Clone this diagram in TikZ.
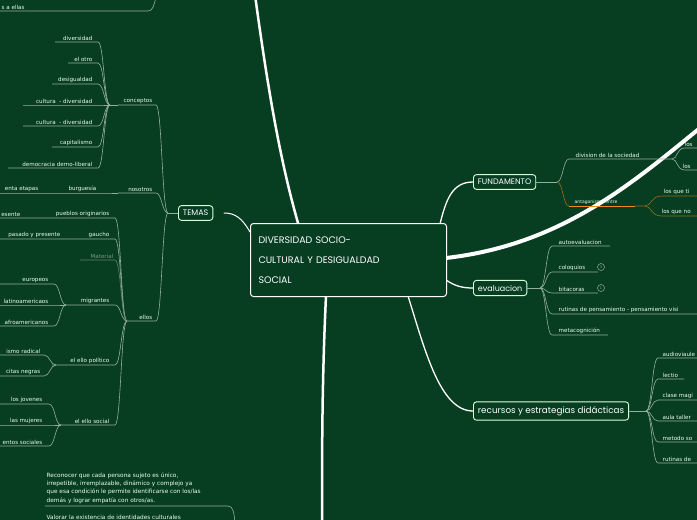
\documentclass[tikz,border=0pt]{standalone}
\usepackage{fontspec}
\setmainfont{DejaVu Sans}
\newfontfamily\hand{Poppins}
\definecolor{bg}{RGB}{7,62,33}
\definecolor{brc}{RGB}{150,175,155}
\definecolor{org}{RGB}{240,140,20}
\definecolor{dorg}{RGB}{150,110,30}
\newcommand\lft[7]{\node[lbl,anchor=south east] (#1) at (#3-4,#4) {#5};
 \draw[br] (#2,#4) -- (#6-6,#4) .. controls (#6,#4) and (#6,#7) .. (#6+6,#7);}
\newcommand\rgt[7]{\node[lbl,anchor=south west] (#1) at (#2+4,#4) {#5};
 \draw[br] (#6-6,#7) .. controls (#6,#7) and (#6,#4) .. (#6+6,#4) -- (#3,#4);}
\begin{document}
\begin{tikzpicture}[x=1pt,y=-1pt,
 lbl/.style={font=\fontsize{5.6}{7}\selectfont,text=white!92!green,inner sep=1.5pt},
 br/.style={draw=brc,line width=0.6pt},
 topic/.style={draw=white!85!green,line width=0.9pt,rounded corners=3pt,fill=bg,text=white,font=\hand\fontsize{8}{9}\selectfont,inner sep=4.5pt},
 thick/.style={draw=white,line width=#1,line cap=round}]
\fill[bg] (0,0) rectangle (697,520);
\useasboundingbox (0,0) rectangle (697,520);
% thick main connectors
\coordinate (tT) at (255,-5);
\coordinate (tB) at (322,525);
\coordinate (tR) at (700,128);
\draw[thick=2.5pt] (tT) .. controls (268,90) and (280,160) .. (298,223);
\draw[thick=2.5pt] (326,296) .. controls (322,380) and (322,450) .. (tB);
\draw[thick=4pt] (446,258) .. controls (560,245) and (630,185) .. (tR);
\draw[thick=1.3pt] (440,224) .. controls (446,200) and (452,182) .. (473,182);
\draw[thick=1.3pt] (446,280) .. controls (455,286) and (462,288) .. (473,288);
\draw[thick=1.3pt] (408,296) .. controls (425,350) and (440,411) .. (473,411);
\draw[thick=1pt] (250,232) .. controls (242,218) and (235,213) .. (224,213);
% central
\node[draw=white,line width=1pt,rounded corners=3pt,fill=bg,text=white,font=\hand\fontsize{9.5}{20}\selectfont,align=left,minimum width=196pt,minimum height=73pt,text width=180pt,anchor=north west] (root) at (250,223) {DIVERSIDAD SOCIO-\\CULTURAL Y DESIGUALDAD\\SOCIAL};
\node[topic,anchor=west] (temas) at (178,213) {TEMAS};
\node[topic,anchor=west] (fund) at (473,182) {FUNDAMENTO};
\node[topic,anchor=west] (eval) at (473,288) {evaluacion};
\node[topic,anchor=west,font=\hand\fontsize{8.8}{9}\selectfont] (recu) at (473,411) {recursos y estrategias didácticas};
% TEMAS hub
\draw[br] (temas.west) -- (168,213);
\lft{conc}{118}{158}{105}{conceptos}{162}{213}
\lft{noso}{118}{158}{193}{nosotros}{162}{213}
\lft{ello}{125}{158}{321}{ellos}{162}{213}
% conceptos
\lft{c1}{55}{98}{42}{diversidad}{104}{105}
\lft{c2}{68}{98}{63}{el otro}{104}{105}
\lft{c3}{52}{98}{84}{desigualdad}{104}{105}
\lft{c4}{23}{98}{105}{cultura\ \ - diversidad}{104}{105}
\lft{c5}{23}{98}{126}{cultura\ \ - diversidad}{104}{105}
\lft{c6}{52}{98}{147}{capitalismo}{104}{105}
\lft{c7}{8}{98}{168}{democracia demo-liberal}{104}{105}
\draw[br] (104,105) -- (118,105);
% nosotros
\lft{burg}{0}{102}{193}{burguesía}{112}{193}
\node[lbl,anchor=south east] (etap) at (40,193) {enta etapas};
% ellos
\lft{e1}{0}{115}{218}{pueblos originarios}{121}{321}
\lft{e2}{0}{115}{239}{gaucho}{121}{321}
\node[lbl,anchor=south east] (e1b) at (22,218) {esente};
\node[lbl,anchor=south east] (e2b) at (62,239) {pasado y presente};
\node[lbl,anchor=south east,text=brc!80!bg] (mat) at (115,260) {Material};
\draw[draw=brc!60!bg,line width=0.6pt] (80,260) -- (115,260) .. controls (121,260) and (121,321) .. (127,321);
\lft{e4}{65}{115}{305}{migrantes}{121}{321}
\lft{e5}{52}{115}{365}{el ello político}{121}{321}
\lft{e6}{58}{115}{425}{el ello social}{121}{321}
% migrantes
\lft{m1}{0}{54}{284}{europeos}{60}{305}
\lft{m2}{0}{54}{305}{latinoamericaos}{60}{305}
\lft{m3}{0}{54}{326}{afroamericanos}{60}{305}
% politico
\lft{p1}{0}{46}{355}{ismo radical}{50}{365}
\lft{p2}{0}{46}{376}{citas negras}{50}{365}
% social
\lft{s1}{0}{48}{404}{los jovenes}{55}{425}
\lft{s2}{0}{48}{425}{las mujeres}{55}{425}
\lft{s3}{0}{48}{446}{entos sociales}{55}{425}
% top-left
\node[lbl,anchor=south west] (ellas) at (0,11) {s a ellas};
\coordinate (tlc) at (156,-3);
\draw[br] (0,11) -- (148,11) .. controls (153,11) and (154,5) .. (tlc);
% bottom text
\node[lbl,anchor=south west,align=left,font=\fontsize{5.8}{8.3}\selectfont] (reco) at (45,505) {Reconocer que cada persona sujeto es único,\\irrepetible, irremplazable, dinámico y complejo ya\\que esa condición le permite identificarse con los/las\\demás y lograr empatía con otros/as.};
\coordinate (blc) at (235,523);
\draw[br] (45,506) -- (228,506) .. controls (233,506) and (234,512) .. (blc);
\node[lbl,anchor=north west,font=\fontsize{5.8}{8.3}\selectfont] (valo) at (45,513) {Valorar la existencia de identidades culturales};
% FUNDAMENTO
\draw[br] (fund.east) -- (557,182);
\rgt{f1}{570}{672}{159}{division de la sociedad}{563}{182}
\node[lbl,anchor=south west,font=\fontsize{4.5}{6}\selectfont] (f2) at (573,206) {antagonismo entre};
\draw[draw=dorg,line width=0.6pt] (557,182) .. controls (563,182) and (563,206) .. (569,206);
\draw[draw=org,line width=1pt] (569,206) -- (635,206);
\draw[br] (672,159) .. controls (678,159) and (676,148) .. (685,148) -- (697,148);
\draw[br] (672,159) .. controls (678,159) and (676,170) .. (685,170) -- (697,170);
\node[lbl,anchor=south west] (f11) at (683,148) {los};
\node[lbl,anchor=south west] (f12) at (681,170) {los};
\draw[draw=dorg,line width=0.6pt] (635,206) -- (645,206) .. controls (652,206) and (650,196) .. (662,196) -- (697,196);
\draw[draw=dorg,line width=0.6pt] (645,206) .. controls (652,206) and (650,216) .. (662,216) -- (697,216);
\node[lbl,anchor=south west] (f21) at (662,196) {los que ti};
\node[lbl,anchor=south west] (f22) at (660,216) {los que no};
% evaluacion
\draw[br] (eval.east) -- (540,288);
\rgt{v1}{553}{610}{246}{autoevaluacion}{546}{288}
\rgt{v2}{553}{598}{272}{coloquios}{546}{288}
\rgt{v3}{553}{598}{293}{bitacoras}{546}{288}
\rgt{v4}{553}{697}{314}{rutinas de pensamiento - pensamiento visi}{546}{288}
\rgt{v5}{553}{608}{335}{metacognición}{546}{288}
\node[circle,draw=brc,line width=0.5pt,inner sep=0pt,minimum size=7pt,font=\fontsize{3.5}{4}\selectfont,text=brc] (k1) at (601,267) {3};
\node[circle,draw=brc,line width=0.5pt,inner sep=0pt,minimum size=7pt,font=\fontsize{3.5}{4}\selectfont,text=brc] (k2) at (601,288) {1};
% recursos
\draw[br] (recu.east) -- (646,411);
\rgt{r1}{657}{697}{358}{audioviaule}{652}{411}
\rgt{r2}{657}{684}{379}{lectio}{652}{411}
\rgt{r3}{657}{697}{400}{clase magi}{652}{411}
\rgt{r4}{657}{697}{421}{aula taller}{652}{411}
\rgt{r5}{657}{697}{442}{metodo so}{652}{411}
\rgt{r6}{657}{697}{463}{rutinas de}{652}{411}
\end{tikzpicture}
\end{document}
